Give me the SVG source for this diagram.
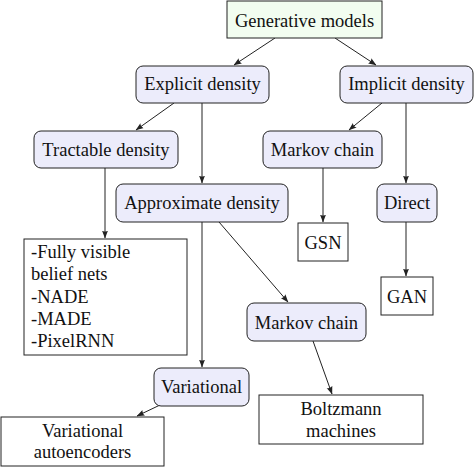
<svg xmlns="http://www.w3.org/2000/svg" width="474" height="467" viewBox="0 0 474 467">
<defs>
<marker id="ah" markerWidth="8" markerHeight="8" viewBox="0 0 8 8" refX="7.5" refY="4" orient="auto" markerUnits="userSpaceOnUse">
<path d="M0,1 L8,4 L0,7 Q2,4 0,1 Z" fill="#222"/>
</marker>
</defs>
<rect width="474" height="467" fill="#fff"/>
<g id="edges" fill="none" stroke="#222" stroke-width="1" marker-end="url(#ah)">
<line x1="275" y1="38" x2="234" y2="65"/>
<line x1="335" y1="38" x2="376" y2="65"/>
<line x1="174" y1="103" x2="136" y2="130"/>
<line x1="202" y1="103" x2="202" y2="183"/>
<line x1="382" y1="103" x2="349" y2="130"/>
<line x1="406" y1="103" x2="406" y2="183"/>
<line x1="105" y1="168" x2="105" y2="238"/>
<line x1="323" y1="168" x2="323" y2="222"/>
<line x1="406" y1="222" x2="406" y2="276"/>
<line x1="202" y1="222" x2="202" y2="367"/>
<line x1="219" y1="222" x2="288" y2="302"/>
<line x1="313" y1="341" x2="332" y2="394"/>
<line x1="160" y1="405" x2="137" y2="416"/>
</g>
<g stroke="#222" stroke-width="1">
<g id="n-gen"><rect fill="#f2fdf0" x="227" y="1" width="155" height="37"/><text font-family="Liberation Serif" font-size="18.5" fill="#111" stroke="none" text-anchor="middle" x="304.5" y="27">Generative models</text></g>
<g id="n-explicit"><rect fill="#ececfb" x="136" y="66" width="133" height="37" rx="7"/><text font-family="Liberation Serif" font-size="18.5" fill="#111" stroke="none" text-anchor="middle" x="202.5" y="90">Explicit density</text></g>
<g id="n-implicit"><rect fill="#ececfb" x="340" y="66" width="133" height="37" rx="7"/><text font-family="Liberation Serif" font-size="18.5" fill="#111" stroke="none" text-anchor="middle" x="406.5" y="90">Implicit density</text></g>
<g id="n-tractable"><rect fill="#ececfb" x="34" y="131" width="144" height="37" rx="7"/><text font-family="Liberation Serif" font-size="18.5" fill="#111" stroke="none" text-anchor="middle" x="106" y="156">Tractable density</text></g>
<g id="n-markov1"><rect fill="#ececfb" x="263" y="131" width="119" height="37" rx="7"/><text font-family="Liberation Serif" font-size="18.5" fill="#111" stroke="none" text-anchor="middle" x="322.5" y="156">Markov chain</text></g>
<g id="n-approx"><rect fill="#ececfb" x="116" y="184" width="172" height="38" rx="7"/><text font-family="Liberation Serif" font-size="18.5" fill="#111" stroke="none" text-anchor="middle" x="202" y="209">Approximate density</text></g>
<g id="n-direct"><rect fill="#ececfb" x="377" y="184" width="60" height="38" rx="7"/><text font-family="Liberation Serif" font-size="18.5" fill="#111" stroke="none" text-anchor="middle" x="407" y="209">Direct</text></g>
<g id="n-gsn"><rect fill="#fff" x="298" y="223" width="50" height="38"/><text font-family="Liberation Serif" font-size="18.5" fill="#111" stroke="none" text-anchor="middle" x="323" y="249">GSN</text></g>
<g id="n-gan"><rect fill="#fff" x="381" y="277" width="52" height="38"/><text font-family="Liberation Serif" font-size="18.5" fill="#111" stroke="none" text-anchor="middle" x="407" y="303">GAN</text></g>
<g id="n-list"><rect fill="#fff" x="24" y="239" width="163" height="116"/>
<text font-family="Liberation Serif" font-size="18.5" fill="#111" stroke="none" x="31" y="258">-Fully visible</text>
<text font-family="Liberation Serif" font-size="18.5" fill="#111" stroke="none" x="31" y="280">belief nets</text>
<text font-family="Liberation Serif" font-size="18.5" fill="#111" stroke="none" x="31" y="303">-NADE</text>
<text font-family="Liberation Serif" font-size="18.5" fill="#111" stroke="none" x="31" y="325">-MADE</text>
<text font-family="Liberation Serif" font-size="18.5" fill="#111" stroke="none" x="31" y="347">-PixelRNN</text></g>
<g id="n-markov2"><rect fill="#ececfb" x="247" y="303" width="119" height="38" rx="7"/><text font-family="Liberation Serif" font-size="18.5" fill="#111" stroke="none" text-anchor="middle" x="306.5" y="329">Markov chain</text></g>
<g id="n-variational"><rect fill="#ececfb" x="154" y="368" width="95" height="38" rx="7"/><text font-family="Liberation Serif" font-size="18.5" fill="#111" stroke="none" text-anchor="middle" x="201.5" y="393">Variational</text></g>
<g id="n-boltz"><rect fill="#fff" x="259" y="395" width="164" height="49"/><text font-family="Liberation Serif" font-size="18.5" fill="#111" stroke="none" text-anchor="middle" x="341" y="415">Boltzmann</text><text font-family="Liberation Serif" font-size="18.5" fill="#111" stroke="none" text-anchor="middle" x="341" y="437">machines</text></g>
<g id="n-vae"><rect fill="#fff" x="1" y="417" width="163" height="49"/><text font-family="Liberation Serif" font-size="18.5" fill="#111" stroke="none" text-anchor="middle" x="82.5" y="437">Variational</text><text font-family="Liberation Serif" font-size="18.5" fill="#111" stroke="none" text-anchor="middle" x="82.5" y="458">autoencoders</text></g>
</g>
</svg>
